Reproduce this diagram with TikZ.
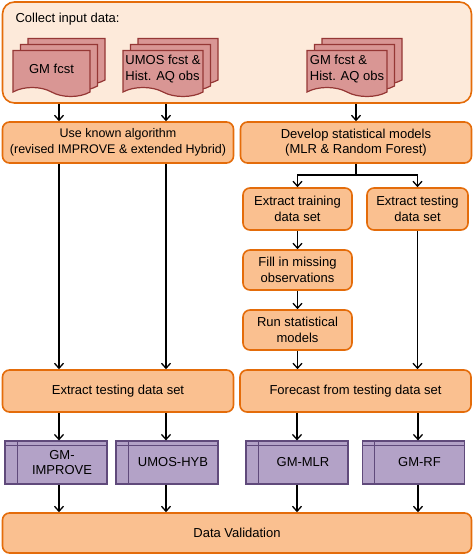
\documentclass[tikz,border=0pt]{standalone}
\usepackage{fontspec}
\setmainfont{Liberation Sans}
\usetikzlibrary{arrows.meta, shapes.symbols, shadows}

\definecolor{peach}{HTML}{FDEADA}
\definecolor{boxorange}{HTML}{FAC090}
\definecolor{lineorange}{HTML}{E46C0A}
\definecolor{docred}{HTML}{D99694}
\definecolor{docline}{HTML}{953735}
\definecolor{modpurple}{HTML}{B3A2C7}
\definecolor{modline}{HTML}{604A7B}

\begin{document}
\begin{tikzpicture}[
    x=1pt, y=-1pt,
    txt/.style={font=\fontsize{13}{15.5}\selectfont},
    box/.style={draw=lineorange, fill=boxorange, line width=1.6pt,
                rounded corners=7pt, minimum height=41pt, txt, align=center},
    doc/.style={tape, tape bend top=none, tape bend bottom=out and in,
                tape bend height=9pt, draw=docline, fill=docred,
                line width=1.2pt, minimum height=46pt, inner sep=1pt, txt,
                double copy shadow={shadow xshift=7.5pt, shadow yshift=6pt,
                                    fill=docred, draw=docline, line width=1.2pt}},
    model/.style={draw=modline, fill=modpurple, line width=1.2pt,
                  minimum width=102pt, minimum height=43pt,
                  label={[txt, align=center, xshift=6pt]center:#1},
                  path picture={
                    \draw[modline, line width=1pt]
                      ([xshift=12pt]path picture bounding box.north west) --
                      ([xshift=12pt]path picture bounding box.south west);
                    \draw[modline, line width=1pt]
                      ([yshift=-4pt]path picture bounding box.north west) --
                      ([yshift=-4pt]path picture bounding box.north east);
                  }},
    flow/.style={->, line width=1.3pt},
    >={Straight Barb[length=5pt, width=9pt]}
  ]
  \useasboundingbox (0,0) rectangle (474,555);

  % input data
  \node[draw=lineorange, fill=peach, line width=1.6pt, rounded corners=12pt,
        minimum width=469pt, minimum height=101pt] (collect) at (237,52.5) {};
  \node[txt, anchor=west] (collecttitle) at (12,19) {Collect input data:};
  \node[doc, minimum width=77pt] (gmdoc) at (51.5,69) {GM fcst};
  \node[doc, minimum width=80pt, align=left] (umosdoc) at (163,69)
    {UMOS fcst \&\\Hist. AQ obs};
  \node[doc, minimum width=80pt, align=left] (obsdoc) at (347,69)
    {GM fcst \&\\Hist. AQ obs};

  % methods
  \node[box, minimum width=231pt, font=\fontsize{12.5}{15.5}\selectfont] (known) at (118,142.5)
    {Use known algorithm\\(revised IMPROVE \& extended Hybrid)};
  \node[box, minimum width=231pt] (develop) at (356,142.5)
    {Develop statistical models\\(MLR \& Random Forest)};

  \node[box, minimum width=109pt, minimum height=42pt] (train) at (297.5,209)
    {Extract training\\data set};
  \node[box, minimum width=101pt, minimum height=42pt] (testsel) at (417.5,209)
    {Extract testing\\data set};
  \node[box, minimum width=109pt, minimum height=40pt] (fillobs) at (297.5,270)
    {Fill in missing\\observations};
  \node[box, minimum width=109pt, minimum height=40pt] (runmod) at (297.5,330)
    {Run statistical\\models};

  \node[box, minimum width=231pt, minimum height=42pt] (testing) at (118,391)
    {Extract testing data set};
  \node[box, minimum width=231pt, minimum height=42pt] (forecast) at (355.5,391)
    {Forecast from testing data set};

  % model outputs
  \node[model={GM-\\IMPROVE}] (gmimp) at (56,462.5) {};
  \node[model={UMOS-HYB}] (umoshyb) at (167,462.5) {};
  \node[model={GM-MLR}] (gmmlr) at (297,462.5) {};
  \node[model={GM-RF}] (gmrf) at (413.5,462.5) {};

  \node[box, minimum width=469pt, minimum height=40pt] (valid) at (237,533)
    {Data Validation};

  % connectors
  \coordinate (c1) at (59,0);
  \coordinate (c2) at (166,0);
  \coordinate (c3) at (297,0);
  \coordinate (c4) at (418,0);
  \coordinate (split) at (0,175);

  \draw[flow] (collect.south -| c1) -- (known.north -| c1);
  \draw[flow] (collect.south -| c2) -- (known.north -| c2);
  \draw[flow] (collect.south -| develop) -- (develop.north);

  \draw[flow] (known.south -| c1) -- (testing.north -| c1);
  \draw[flow] (known.south -| c2) -- (testing.north -| c2);

  \draw[flow] (develop.south) |- (split -| train) -- (train.north);
  \draw[flow] (develop.south) |- (split -| testsel) -- (testsel.north);
  \draw[flow] (train) -- (fillobs);
  \draw[flow] (fillobs) -- (runmod);
  \draw[flow] (runmod) -- (forecast.north -| runmod);
  \draw[flow] (testsel) -- (forecast.north -| testsel);

  \draw[flow] (testing.south -| c1) -- (gmimp.north -| c1);
  \draw[flow] (testing.south -| c2) -- (umoshyb.north -| c2);
  \draw[flow] (forecast.south -| c3) -- (gmmlr.north -| c3);
  \draw[flow] (forecast.south -| c4) -- (gmrf.north -| c4);

  \draw[flow] (gmimp.south -| c1) -- (valid.north -| c1);
  \draw[flow] (umoshyb.south -| c2) -- (valid.north -| c2);
  \draw[flow] (gmmlr.south -| c3) -- (valid.north -| c3);
  \draw[flow] (gmrf.south -| c4) -- (valid.north -| c4);
\end{tikzpicture}
\end{document}
